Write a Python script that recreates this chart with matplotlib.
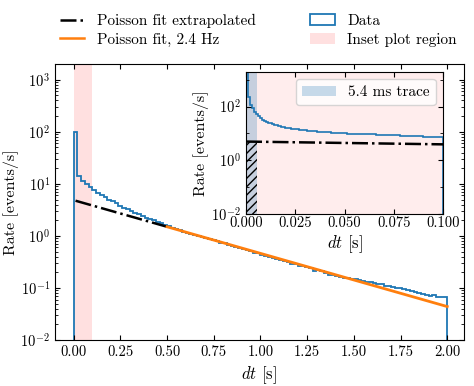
"""Waiting-time distribution with Poisson fit and zoomed inset."""

import matplotlib.pyplot as plt
import matplotlib.patches as mpatches
from matplotlib.lines import Line2D
from matplotlib.ticker import LogLocator, NullFormatter
import numpy as np

# ---- data ----
# main histogram: 100 bins of 0.02 s from 0 to 2 s
main_edges_start, main_edges_stop, main_nbins = 0.0, 2.0, 100
main_rate = [
    100, 13.9, 11.5, 9.9, 8.6, 7.6, 6.8, 6.1, 5.5, 5.0,
    4.6, 4.2, 3.8, 3.5, 3.25, 3.0, 2.8, 2.6, 2.42, 2.26,
    2.12, 1.98, 1.86, 1.75, 1.64, 1.58, 1.42, 1.33, 1.29, 1.20,
    1.16, 1.09, 1.06, 0.99, 0.96, 0.90, 0.87, 0.82, 0.79, 0.74,
    0.72, 0.67, 0.65, 0.60, 0.59, 0.55, 0.53, 0.51, 0.48, 0.46,
    0.44, 0.42, 0.40, 0.385, 0.36, 0.345, 0.33, 0.31, 0.29, 0.285,
    0.27, 0.262, 0.25, 0.24, 0.215, 0.218, 0.21, 0.197, 0.18, 0.178,
    0.172, 0.165, 0.158, 0.153, 0.148, 0.148, 0.143, 0.138, 0.132, 0.13,
    0.125, 0.122, 0.118, 0.11, 0.108, 0.105, 0.10, 0.098, 0.094, 0.09,
    0.088, 0.082, 0.080, 0.077, 0.074, 0.070, 0.072, 0.066, 0.068, 0.068,
]

# inset histogram: 100 bins of 1 ms from 0 to 0.1 s
inset_edges_start, inset_edges_stop, inset_nbins = 0.0, 0.1, 100
inset_rate = [
    3000, 220, 120, 86, 65, 52, 44, 38, 33, 30,
    27.5, 25.5, 24, 22.5, 21.2, 20.2, 19.3, 18.5, 17.8, 17.2,
    16.6, 16.1, 15.6, 15.2, 14.8, 14.5, 14.2, 13.9, 13.6, 13.3,
    13.0, 12.8, 12.6, 12.4, 12.2, 12.0, 11.8, 11.6, 11.5, 11.3,
    11.2, 11.0, 10.9, 10.8, 10.6, 10.5, 10.4, 10.3, 10.2, 10.1,
    10.0, 9.95, 9.9, 9.85, 9.8, 9.75, 9.7, 9.64, 9.58, 9.52,
    9.46, 9.4, 9.34, 9.28, 9.22, 9.16, 9.1, 9.04, 8.98, 8.92,
    8.86, 8.8, 8.74, 8.68, 8.62, 8.56, 8.5, 8.44, 8.38, 8.32,
    8.26, 8.2, 8.14, 8.08, 8.02, 7.96, 7.9, 7.84, 7.78, 7.72,
    7.66, 7.62, 7.58, 7.54, 7.5, 7.47, 7.44, 7.41, 7.38, 7.35,
]

# Poisson fit (2.4 Hz) end points, straight on a log axis
extrap_dt = [0.01, 0.5]
extrap_rate = [4.75, 1.5]
fit_dt = [0.5, 2.0]
fit_rate = [1.5, 0.044]
inset_fit_dt = [0.0, 0.1]
inset_fit_rate = [4.98, 3.92]

trace_len = 0.0054          # 5.4 ms
inset_region = (0.0, 0.1)

plt.rcParams['font.family'] = 'serif'
plt.rcParams['font.serif'] = ['cmr10']
plt.rcParams['mathtext.fontset'] = 'cm'
plt.rcParams['axes.formatter.use_mathtext'] = True
plt.rcParams['font.size'] = 10.5
plt.rcParams['hatch.linewidth'] = 1.0

fig = plt.figure(figsize=(4.74, 3.86), dpi=100)
ax = fig.add_axes([0.116, 0.119, 0.863, 0.715])

main_edges = np.linspace(main_edges_start, main_edges_stop, main_nbins + 1)
ax.axvspan(*inset_region, color='red', alpha=0.12, lw=0, zorder=0)
ax.stairs(main_rate, main_edges, baseline=1e-4, color='C0', lw=1.3)
ax.plot(extrap_dt, extrap_rate, color='k', ls='-.', lw=1.8)
ax.plot(fit_dt, fit_rate, color='C1', lw=2.0)

ax.set_yscale('log')
ax.set_ylim(1e-2, 2e3)
ax.set_xlim(-0.1, 2.09)
ax.set_xticks(np.arange(0, 2.01, 0.25))
ax.set_xticklabels([f'{v:.2f}' for v in np.arange(0, 2.01, 0.25)])
ax.yaxis.set_minor_locator(LogLocator(base=10, subs=np.arange(2, 10) * 0.1, numticks=20))
ax.yaxis.set_minor_formatter(NullFormatter())
ax.tick_params(which='both', direction='in', top=True, right=True)
ax.set_xlabel(r'$dt$ [s]', fontsize=12)
ax.set_ylabel('Rate [events/s]', fontsize=11.5, labelpad=1)

# legend above the axes
handles = [
    Line2D([], [], color='k', ls='-.', lw=1.8),
    Line2D([], [], color='C1', lw=1.8),
    mpatches.Patch(facecolor='none', edgecolor='C0', lw=1.3),
    mpatches.Patch(facecolor='red', alpha=0.12, lw=0),
]
labels = ['Poisson fit extrapolated', 'Poisson fit, 2.4 Hz', 'Data', 'Inset plot region']
fig.legend(handles, labels, loc='upper center', bbox_to_anchor=(0.545, 1.0),
           ncol=2, frameon=False, fontsize=11, columnspacing=3.6,
           handlelength=1.6, labelspacing=0.3)

# inset
axi = fig.add_axes([0.519, 0.446, 0.416, 0.368])
inset_edges = np.linspace(inset_edges_start, inset_edges_stop, inset_nbins + 1)
axi.axvspan(*inset_region, color='red', alpha=0.07, lw=0, zorder=0)
axi.axvspan(0, trace_len, color='C0', alpha=0.25, lw=0, zorder=0.5, label='5.4 ms trace')
axi.fill_between([0, trace_len], 1e-2, [inset_fit_rate[0], inset_fit_rate[0]],
                 facecolor='none', edgecolor='k', hatch='////', lw=0, zorder=1)
axi.stairs(inset_rate, inset_edges, baseline=1e-4, color='C0', lw=1.2)
axi.plot(inset_fit_dt, inset_fit_rate, color='k', ls='-.', lw=1.8)

axi.set_yscale('log')
axi.set_ylim(1e-2, 2e3)
axi.set_xlim(0, 0.1)
axi.set_xticks([0, 0.025, 0.05, 0.075, 0.1])
axi.set_xticklabels(['0.000', '0.025', '0.050', '0.075', '0.100'])
axi.set_yticks([1e-2, 1e0, 1e2])
axi.yaxis.set_minor_locator(LogLocator(base=10, subs=(1.0,), numticks=20))
axi.yaxis.set_minor_formatter(NullFormatter())
axi.tick_params(which='both', direction='in', top=True, right=True)
axi.tick_params(axis='x', pad=2)
axi.set_xlabel(r'$dt$ [s]', fontsize=12, labelpad=2)
axi.set_ylabel('Rate [events/s]', fontsize=11.5, labelpad=2)
axi.legend(loc='upper right', fontsize=11, handlelength=2.2)

fig.savefig('out.png', dpi=100, facecolor='white')
